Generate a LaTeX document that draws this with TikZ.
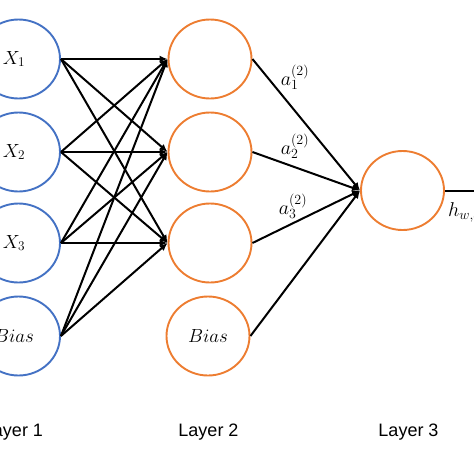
\documentclass[tikz,border=0pt]{standalone}
\usepackage{fix-cm}
\usepackage{fontspec}
\setsansfont{Liberation Sans}
\usetikzlibrary{shapes.geometric,arrows.meta}
\definecolor{nblue}{RGB}{68,114,196}
\definecolor{norange}{RGB}{237,125,49}
\newcommand{\myleftnudge}[1]{\hspace*{-9pt}#1}
\begin{document}
\begin{tikzpicture}[x=1pt,y=-1pt,
  neuron/.style={ellipse,draw,line width=1.9pt,minimum width=83pt,minimum height=79pt,inner sep=0pt,font=\fontsize{19}{22}\selectfont},
  inneuron/.style={neuron,draw=nblue},
  hidneuron/.style={neuron,draw=norange},
  conn/.style={line width=2pt,-{Latex[length=8pt,width=7pt]}},
  plain/.style={line width=2pt},
  layerlbl/.style={font=\sffamily\fontsize{18}{20}\selectfont},
  wlbl/.style={font=\fontsize{20}{22}\selectfont}]
\useasboundingbox (0,0) rectangle (474,474);
\node[inneuron] (x1) at (18.5,59) {\myleftnudge{$X_1$}};
\node[inneuron] (x2) at (18.5,152) {\myleftnudge{$X_2$}};
\node[inneuron] (x3) at (18.5,243) {\myleftnudge{$X_3$}};
\node[inneuron] (b1) at (18.5,336) {\myleftnudge{$Bias$}};
\node[hidneuron] (h1) at (210,59) {};
\node[hidneuron] (h2) at (210,152) {};
\node[hidneuron] (h3) at (210,243) {};
\node[hidneuron] (b2) at (208,336) {$Bias$};
\node[hidneuron] (o) at (402.5,190.5) {};
\foreach \s in {x1,x2,x3,b1}
  \foreach \t in {h1,h2,h3}
    \draw[conn] (\s.east) -- (\t.west);
\foreach \s in {h1,h2,h3,b2}
  \draw[conn] (\s.east) -- (o.west);
\coordinate (out) at (480,190.5);
\draw[plain] (o.east) -- (out);
\node[wlbl] (a1) at (295,77) {$a_1^{(2)}$};
\node[wlbl] (a2) at (295,146) {$a_2^{(2)}$};
\node[wlbl] (a3) at (293,206) {$a_3^{(2)}$};
\node[wlbl,anchor=west,inner sep=0pt] (hw) at (448,212) {$h_{w,b}(x)$};
\node[layerlbl] (L1) at (13,432) {Layer 1};
\node[layerlbl] (L2) at (208.5,432) {Layer 2};
\node[layerlbl] (L3) at (408.5,432) {Layer 3};
\end{tikzpicture}
\end{document}
